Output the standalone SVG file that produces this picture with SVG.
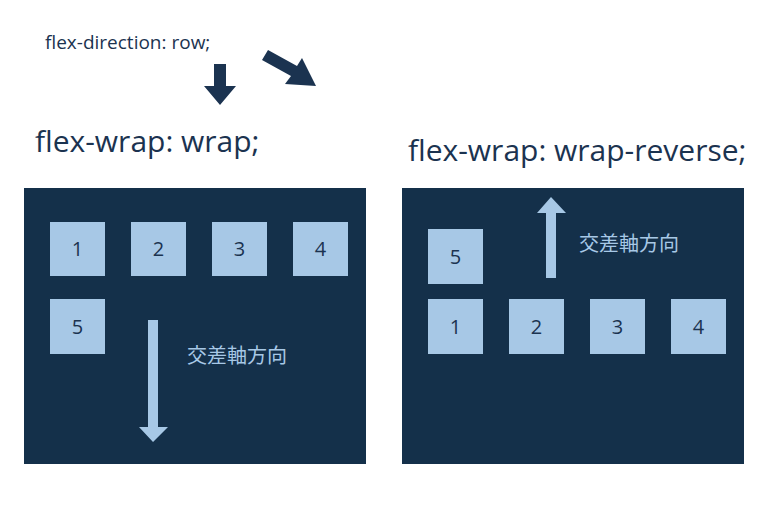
<svg xmlns="http://www.w3.org/2000/svg" width="768" height="512" viewBox="0 0 768 512">
<style>
.t{font-family:"Open Sans","Noto Sans",sans-serif;fill:#1b3350}
.panel{fill:#14304a}
.box{fill:#a7c8e6}
.n{font-family:"Open Sans","Noto Sans",sans-serif;font-size:20px;fill:#1b3350;text-anchor:middle}
.j{font-family:"Noto Sans CJK JP",sans-serif;font-size:20px;fill:#a7c8e6}
</style>
<rect width="768" height="512" fill="#fff"/>
<g id="titles">
<text class="t" x="45" y="49" font-size="19">flex-direction: row;</text>
<text class="t" x="35" y="152" font-size="30">flex-wrap: wrap;</text>
<text class="t" x="408" y="161" font-size="30">flex-wrap: wrap-reverse;</text>
</g>
<g id="connectors">
<polygon fill="#1b3350" points="214,64 226,64 226,86 236,86 220,105 204,86 214,86"/>
<polygon fill="#1b3350" points="262,60 268,50 297,66 302,58 316,86 285,84 291,76"/>
</g>
<g id="left">
<rect class="panel" x="24" y="188" width="342" height="276"/>
<g id="l1"><rect class="box" x="50" y="222" width="55" height="54"/><text class="n" x="77.5" y="256">1</text></g>
<g id="l2"><rect class="box" x="131" y="222" width="55" height="54"/><text class="n" x="158.5" y="256">2</text></g>
<g id="l3"><rect class="box" x="212" y="222" width="55" height="54"/><text class="n" x="239.5" y="256">3</text></g>
<g id="l4"><rect class="box" x="293" y="222" width="55" height="54"/><text class="n" x="320.5" y="256">4</text></g>
<g id="l5"><rect class="box" x="50" y="299" width="55" height="55"/><text class="n" x="77.5" y="334">5</text></g>
<polygon class="box" points="148,320 158,320 158,427 168,427 153,442 139,427 148,427"/>
<text class="j" x="187" y="363">交差軸方向</text>
</g>
<g id="right">
<rect class="panel" x="402" y="188" width="342" height="276"/>
<g id="r1"><rect class="box" x="428" y="299" width="55" height="55"/><text class="n" x="455.5" y="334">1</text></g>
<g id="r2"><rect class="box" x="509" y="299" width="55" height="55"/><text class="n" x="536.5" y="334">2</text></g>
<g id="r3"><rect class="box" x="590" y="299" width="55" height="55"/><text class="n" x="617.5" y="334">3</text></g>
<g id="r4"><rect class="box" x="671" y="299" width="55" height="55"/><text class="n" x="698.5" y="334">4</text></g>
<g id="r5"><rect class="box" x="428" y="229" width="55" height="55"/><text class="n" x="455.5" y="264">5</text></g>
<polygon class="box" points="546,278 556,278 556,213 566,213 551,197 537,213 546,213"/>
<text class="j" x="579" y="251">交差軸方向</text>
</g>
</svg>
